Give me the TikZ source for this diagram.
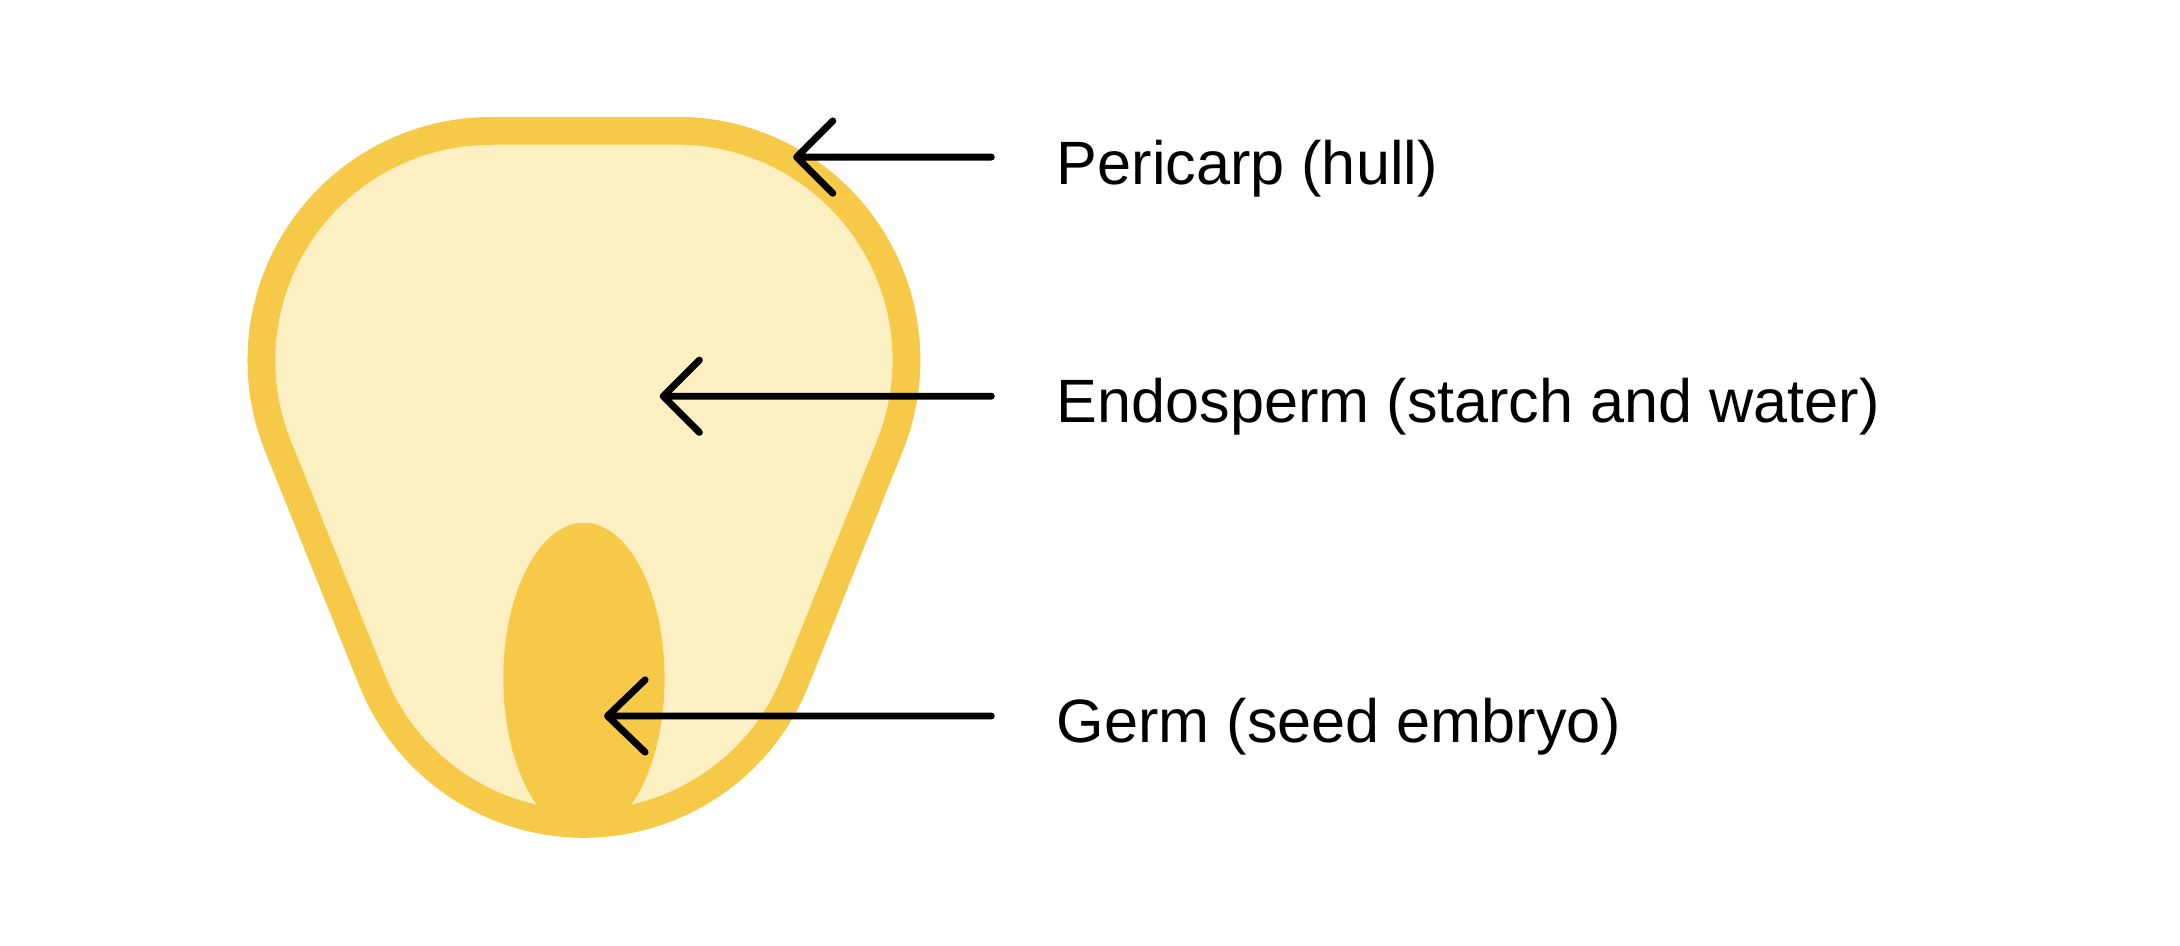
\documentclass[tikz,border=0pt]{standalone}
\usepackage{fontspec}
\setmainfont{Liberation Sans}
\definecolor{hull}{HTML}{F7C948}
\definecolor{endo}{HTML}{FCF0C2}
\begin{document}
\begin{tikzpicture}[x=1pt,y=1pt,
  lbl/.style={anchor=base west,inner sep=0pt,font=\fontsize{44}{50}\selectfont},
  pointer/.style={line width=5pt,line cap=round,line join=round,black}]
\useasboundingbox (0,0) rectangle (1568,680);
\def\kernel{(352,586) -- (487,586) arc[start angle=90,end angle=-22,radius=165] -- (572,190) arc[start angle=-22,end angle=-158,radius=164] -- (200,359) arc[start angle=202,end angle=90,radius=165] -- cycle}
\fill[endo] \kernel;
\begin{scope}
\clip \kernel;
\fill[hull] (420,192) ellipse[x radius=58,y radius=112];
\end{scope}
\draw[hull,line width=20pt,line join=round] \kernel;
\node[lbl] (p) at (760,547) {Pericarp (hull)};
\node[lbl] (e) at (760,376) {Endosperm (starch and water)};
\node[lbl] (g) at (760,146) {Germ (seed embryo)};
\coordinate (pe) at (713,567); \coordinate (pt) at (573,567);
\coordinate (ee) at (713,395); \coordinate (et) at (477,395);
\coordinate (ge) at (713,165); \coordinate (gt) at (437,165);
\draw[pointer] (pe) -- (pt) (599,593) -- (pt) -- (599,541);
\draw[pointer] (ee) -- (et) (503,421) -- (et) -- (503,369);
\draw[pointer] (ge) -- (gt) (464,191) -- (gt) -- (464,139);
\end{tikzpicture}
\end{document}
